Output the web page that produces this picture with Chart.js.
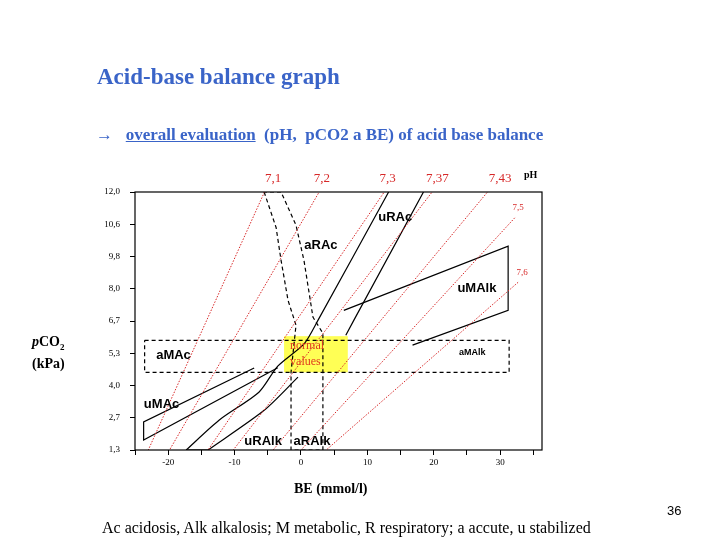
<!DOCTYPE html>
<html>
<head>
<meta charset="utf-8">
<script src="https://cdn.jsdelivr.net/npm/chart.js@4/dist/chart.umd.min.js"></script>
<style>
  body { margin: 0; background: #fff; }
  #wrap { position: relative; width: 728px; height: 546px; font-family: "Liberation Serif", serif; }
  #wrap canvas { position: absolute; left: 0; top: 0; }
  .t { position: absolute; white-space: nowrap; }
</style>
</head>
<body>
<div id="wrap">
  <canvas id="phChart" width="728" height="546"></canvas>
  <div class="t" style="left:97px;top:64px;font-size:23px;font-weight:bold;color:#3a64c8;">Acid-base balance graph</div>
  <div class="t" style="left:96px;top:125px;font-size:17px;font-weight:bold;color:#3a64c8;">&rarr;&nbsp;&nbsp;&nbsp;<u>overall evaluation</u>&nbsp;&nbsp;(pH,&nbsp; pCO2 a BE) of acid base balance</div>
  <div class="t" style="left:32px;top:334px;font-size:14px;font-weight:bold;"><i>p</i>CO<sub style="font-size:9px">2</sub></div>
  <div class="t" style="left:32px;top:356px;font-size:14px;font-weight:bold;">(kPa)</div>
  <div class="t" style="left:294px;top:481px;font-size:14px;font-weight:bold;">BE (mmol/l)</div>
  <div class="t" style="left:667px;top:503px;font-size:13px;font-family:'Liberation Sans',sans-serif;">36</div>
  <div class="t" style="left:102px;top:519px;font-size:16px;">Ac acidosis, Alk alkalosis; M metabolic, R respiratory; a accute, u stabilized</div>
</div>
<script>
// y axis is drawn on an index scale 0..8, labelled with the pCO2 values
const yLabels = ['1,3', '2,7', '4,0', '5,3', '6,7', '8,0', '9,8', '10,6', '12,0'];

// pH isolines
const ph71 = [{x: -5.5, y: 8}, {x: -23, y: 0}];
const ph72 = [{x: 3.3, y: 8.2}, {x: -19.8, y: 0}];
const ph73 = [{x: 13.2, y: 8.2}, {x: -14, y: 0}];
const ph737 = [{x: 20.5, y: 8.2}, {x: -10.2, y: 0}];
const ph743 = [{x: 28.9, y: 8.2}, {x: -4.2, y: 0}];
const ph75 = [{x: 32.2, y: 7.2}, {x: 0, y: 0}];
const ph76 = [{x: 32.7, y: 5.2}, {x: 3.8, y: 0}];

// zones
const uRAcLeft = [{x: 13.2, y: 8}, {x: 2.55, y: 4.02}, {x: 0.5, y: 3.3}, {x: -3.5, y: 2.6}, {x: -6.3, y: 1.8}, {x: -12.3, y: 0.93}, {x: -17.3, y: 0}];
const uRAlkBase = [{x: -17.3, y: 0}, {x: -14, y: 0}];
const uRAcRight = [{x: 18.45, y: 8}, {x: 7.95, y: 4.02}, {x: 6.75, y: 3.56}];
const uRAlkRight = [{x: -0.45, y: 2.26}, {x: -5.5, y: 1.24}, {x: -14, y: 0}];
const uMAc = [{x: -7.05, y: 2.54}, {x: -23.7, y: 0.87}, {x: -23.7, y: 0.31}, {x: -3.5, y: 2.55}];
const uMAlk = [{x: 6.45, y: 4.33}, {x: 31.2, y: 6.32}, {x: 31.2, y: 4.33}, {x: 16.8, y: 3.25}];
const aRAc = [{x: -5.55, y: 8}, {x: -3.75, y: 6.9}, {x: -3, y: 5.88}, {x: -1.95, y: 4.64}, {x: -0.75, y: 3.87}, {x: -1.5, y: 2.41}, {x: -1.5, y: 0},
  {x: 3.3, y: 0}, {x: 3.3, y: 2.41}, {x: 3.3, y: 3.62}, {x: 1.8, y: 4.12}, {x: 0.45, y: 5.88}, {x: -0.75, y: 6.97}, {x: -3, y: 8}, {x: -5.55, y: 8}];
const aMBox = [{x: -23.55, y: 3.4}, {x: 31.35, y: 3.4}, {x: 31.35, y: 2.41}, {x: -23.55, y: 2.41}, {x: -23.55, y: 3.4}];
const normalBox = [-2.55, 3.53, 7.05, 2.41];

// text labels [text, x, y, size]
const zoneLabels = [
  ['uRAc', 14.2, 7.2, 13], ['aRAc', 3, 6.35, 13], ['uMAlk', 26.5, 5, 13], ['aMAlk', 25.8, 3.03, 9],
  ['aMAc', -19.2, 2.94, 13], ['uMAc', -21, 1.4, 13], ['uRAlk', -5.7, 0.28, 13], ['aRAlk', 1.65, 0.28, 13]
];
const phLabels = [
  ['7,1', -4.2, 8.42, 13], ['7,2', 3.15, 8.42, 13], ['7,3', 13.05, 8.42, 13], ['7,37', 20.55, 8.42, 13],
  ['7,43', 30, 8.42, 13], ['7,5', 32.7, 7.52, 9], ['7,6', 33.3, 5.5, 9]
];

const red = 'rgb(215,40,40)';
function phSet(d) {
  return {data: d, showLine: true, pointRadius: 0, borderColor: red, borderWidth: 1, borderDash: [1.5, 1.5]};
}
function solid(d, tension) {
  return {data: d, showLine: true, pointRadius: 0, borderColor: '#000', borderWidth: 1.2, tension: tension || 0};
}
function dashed(d) {
  return {data: d, showLine: true, pointRadius: 0, borderColor: '#000', borderWidth: 1.2, borderDash: [4, 3]};
}

const extras = {
  id: 'extras',
  beforeDatasetsDraw(chart) {
    const {ctx, scales: {x, y}} = chart;
    ctx.save();
    ctx.fillStyle = '#ffff55';
    const x0 = x.getPixelForValue(normalBox[0]), y0 = y.getPixelForValue(normalBox[1]);
    const x1 = x.getPixelForValue(normalBox[2]), y1 = y.getPixelForValue(normalBox[3]);
    ctx.fillRect(x0, y0, x1 - x0, y1 - y0);
    ctx.restore();
  },
  afterDatasetsDraw(chart) {
    const {ctx, chartArea: a, scales: {x, y}} = chart;
    ctx.save();
    ctx.strokeStyle = '#000';
    ctx.lineWidth = 1.2;
    ctx.strokeRect(a.left, a.top, a.right - a.left, a.bottom - a.top);
    ctx.textAlign = 'center';
    ctx.textBaseline = 'middle';
    ctx.fillStyle = '#000';
    zoneLabels.forEach(l => {
      ctx.font = 'bold ' + l[3] + 'px "Liberation Sans", Arial, sans-serif';
      ctx.fillText(l[0], x.getPixelForValue(l[1]), y.getPixelForValue(l[2]));
    });
    ctx.fillStyle = red;
    phLabels.forEach(l => {
      ctx.font = l[3] + 'px "Liberation Serif", serif';
      ctx.fillText(l[0], x.getPixelForValue(l[1]), y.getPixelForValue(l[2]));
    });
    ctx.fillStyle = '#000';
    ctx.font = 'bold 10px "Liberation Serif", serif';
    ctx.fillText('pH', x.getPixelForValue(34.6), y.getPixelForValue(8.5));
    ctx.fillStyle = '#e03a1e';
    ctx.textAlign = 'left';
    ctx.font = '12px "Liberation Serif", serif';
    ctx.fillText('normal', x.getPixelForValue(normalBox[0]) + 6, y.getPixelForValue(3.23));
    ctx.fillText('values', x.getPixelForValue(normalBox[0]) + 6, y.getPixelForValue(2.73));
    ctx.restore();
  }
};

new Chart(document.getElementById('phChart'), {
  type: 'scatter',
  data: {
    datasets: [
      phSet(ph71), phSet(ph72), phSet(ph73), phSet(ph737), phSet(ph743), phSet(ph75), phSet(ph76),
      solid(uRAcLeft, 0.25), solid(uRAlkBase), solid(uRAcRight), solid(uRAlkRight, 0.25), solid(uMAc), solid(uMAlk),
      dashed(aRAc), dashed(aMBox)
    ]
  },
  options: {
    responsive: false,
    animation: false,
    layout: {padding: {left: 0, right: 186, top: 192, bottom: 76}},
    plugins: {legend: {display: false}, tooltip: {enabled: false}},
    scales: {
      x: {
        min: -25, max: 36.3,
        afterFit(s) { s.height = 20; },
        afterBuildTicks(s) { s.ticks = [-25, -20, -15, -10, -5, 0, 5, 10, 15, 20, 25, 30, 35].map(v => ({value: v})); },
        grid: {drawOnChartArea: false, tickLength: 5, color: '#000'},
        border: {display: false},
        ticks: {
          font: {size: 9, family: '"Liberation Serif", serif'}, color: '#000', padding: 2, autoSkip: false, maxRotation: 0,
          callback: v => (v % 10 === 0 ? v : '')
        }
      },
      y: {
        min: 0, max: 8,
        afterFit(s) { s.width = 135; },
        grid: {drawOnChartArea: false, tickLength: 5, color: '#000'},
        border: {display: false},
        ticks: {
          stepSize: 1, font: {size: 9, family: '"Liberation Serif", serif'}, color: '#000', padding: 10,
          callback: v => yLabels[v]
        }
      }
    }
  },
  plugins: [extras]
});
</script>
</body>
</html>
